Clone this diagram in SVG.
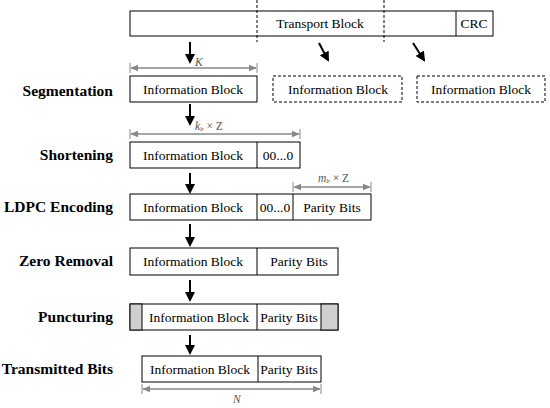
<svg xmlns="http://www.w3.org/2000/svg" width="550" height="408" viewBox="0 0 550 408">
<defs>
<style>
.box{fill:#fff;stroke:#000;stroke-width:1}
.dash{fill:#fff;stroke:#000;stroke-width:1;stroke-dasharray:3,2}
.t{font-family:"Liberation Serif","DejaVu Serif",serif;font-size:13.5px;fill:#000;text-anchor:middle}
.lbl{font-family:"Liberation Serif","DejaVu Serif",serif;font-size:15.5px;font-weight:bold;fill:#000;text-anchor:end}
.dim{font-family:"Liberation Serif","DejaVu Serif",serif;font-size:11.5px;font-style:italic;fill:#555}
.arr{stroke:#000;stroke-width:2;fill:none;marker-end:url(#ah)}
.darr{stroke:#888;stroke-width:1.5;fill:none;marker-start:url(#gh);marker-end:url(#gh)}
.tick{stroke:#888;stroke-width:1}
.gray{fill:#cfcfcf;stroke:#000;stroke-width:1}
</style>
<marker id="ah" viewBox="0 0 10 10" refX="8" refY="5" markerWidth="5" markerHeight="5" orient="auto"><path d="M0,0 L10,5 L0,10 z" fill="#000"/></marker>
<marker id="gh" viewBox="0 0 10 10" refX="9" refY="5" markerWidth="5.5" markerHeight="5.5" orient="auto-start-reverse"><path d="M0,1 L10,5 L0,9 z" fill="#888"/></marker>
</defs>
<rect width="550" height="408" fill="#fff"/>

<g id="transport">
<rect class="box" x="130" y="11" width="363" height="25"/>
<line x1="456" y1="11" x2="456" y2="36" stroke="#000"/>
<line x1="257" y1="0" x2="257" y2="42" stroke="#000" stroke-dasharray="3,2"/>
<line x1="384" y1="0" x2="384" y2="42" stroke="#000" stroke-dasharray="3,2"/>
<text class="t" x="320" y="28">Transport Block</text>
<text class="t" x="474" y="28">CRC</text>
</g>

<g id="segmentation">
<text class="lbl" x="113" y="96">Segmentation</text>
<rect class="box" x="130" y="76" width="127" height="26"/>
<text class="t" x="193" y="94">Information Block</text>
<rect class="dash" x="273" y="76" width="129" height="26"/>
<text class="t" x="338" y="94">Information Block</text>
<rect class="dash" x="417" y="76" width="128" height="26"/>
<text class="t" x="481" y="94">Information Block</text>
</g>

<g id="shortening">
<text class="lbl" x="113" y="160">Shortening</text>
<rect class="box" x="130" y="142" width="170" height="26"/>
<line x1="257" y1="142" x2="257" y2="168" stroke="#000"/>
<text class="t" x="193" y="160">Information Block</text>
<text class="t" x="278" y="160">00...0</text>
</g>

<g id="ldpc">
<text class="lbl" x="113" y="212">LDPC Encoding</text>
<rect class="box" x="130" y="194" width="241" height="26"/>
<line x1="257" y1="194" x2="257" y2="220" stroke="#000"/>
<line x1="293" y1="194" x2="293" y2="220" stroke="#000"/>
<text class="t" x="193" y="212">Information Block</text>
<text class="t" x="275" y="212">00...0</text>
<text class="t" x="332" y="212">Parity Bits</text>
</g>

<g id="zero-removal">
<text class="lbl" x="113" y="266">Zero Removal</text>
<rect class="box" x="130" y="248" width="208" height="27"/>
<line x1="257" y1="248" x2="257" y2="275" stroke="#000"/>
<text class="t" x="193" y="266">Information Block</text>
<text class="t" x="299" y="266">Parity Bits</text>
</g>

<g id="puncturing">
<text class="lbl" x="113" y="322">Puncturing</text>
<rect class="box" x="130" y="304" width="208" height="26"/>
<rect class="gray" x="130" y="304" width="12" height="26"/>
<rect class="gray" x="321" y="304" width="17" height="26"/>
<line x1="257" y1="304" x2="257" y2="330" stroke="#000"/>
<text class="t" x="199" y="322">Information Block</text>
<text class="t" x="289" y="322">Parity Bits</text>
</g>

<g id="transmitted">
<text class="lbl" x="113" y="374">Transmitted Bits</text>
<rect class="box" x="142" y="356" width="179" height="26"/>
<line x1="258" y1="356" x2="258" y2="382" stroke="#000"/>
<text class="t" x="200" y="374">Information Block</text>
<text class="t" x="289" y="374">Parity Bits</text>
</g>

<g id="connectors">
<line class="arr" x1="190" y1="42" x2="190" y2="62"/>
<line class="arr" x1="319" y1="43" x2="328" y2="60"/>
<line class="arr" x1="413" y1="43" x2="424" y2="60"/>
<line class="arr" x1="190" y1="104" x2="190" y2="124"/>
<line class="arr" x1="190" y1="173" x2="190" y2="192"/>
<line class="arr" x1="190" y1="224" x2="190" y2="245"/>
<line class="arr" x1="190" y1="280" x2="190" y2="300"/>
<line class="arr" x1="190" y1="335" x2="190" y2="353"/>

<line class="tick" x1="130" y1="63" x2="130" y2="73"/>
<line class="tick" x1="257" y1="63" x2="257" y2="73"/>
<line class="darr" x1="131" y1="68" x2="256" y2="68"/>
<text class="dim" x="195" y="66">K</text>

<line class="tick" x1="130" y1="129" x2="130" y2="139"/>
<line class="tick" x1="300" y1="129" x2="300" y2="139"/>
<line class="darr" x1="131" y1="134" x2="299" y2="134"/>
<text class="dim" x="195" y="130">k<tspan font-size="7" dy="1">b</tspan><tspan dy="-1" font-style="normal"> × Z</tspan></text>

<line class="tick" x1="293" y1="182" x2="293" y2="192"/>
<line class="tick" x1="371" y1="182" x2="371" y2="192"/>
<line class="darr" x1="294" y1="187" x2="370" y2="187"/>
<text class="dim" x="318" y="182">m<tspan font-size="7" dy="1">b</tspan><tspan dy="-1" font-style="normal"> × Z</tspan></text>

<line class="tick" x1="142" y1="384" x2="142" y2="394"/>
<line class="tick" x1="321" y1="384" x2="321" y2="394"/>
<line class="darr" x1="143" y1="389" x2="320" y2="389"/>
<text class="dim" x="233" y="403" font-size="12" fill="#222">N</text>
</g>
</svg>
